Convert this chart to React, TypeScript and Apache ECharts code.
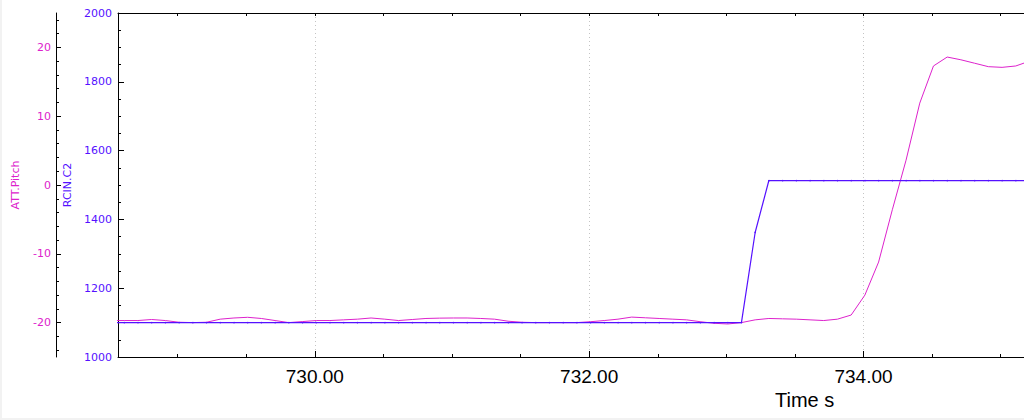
import React, { useEffect, useRef } from "react";
import * as echarts from "echarts";

const times = [
  728.51, 728.61, 728.71, 728.81, 728.91, 729.01, 729.11, 729.21, 729.31, 729.41,
  729.51, 729.61, 729.71, 729.81, 729.91, 730.01, 730.11, 730.21, 730.31, 730.41,
  730.51, 730.61, 730.71, 730.81, 730.91, 731.01, 731.11, 731.21, 731.31, 731.41,
  731.51, 731.61, 731.71, 731.81, 731.91, 732.01, 732.11, 732.21, 732.31, 732.41,
  732.51, 732.61, 732.71, 732.81, 732.91, 733.01, 733.11, 733.21, 733.31, 733.41,
  733.51, 733.61, 733.71, 733.81, 733.91, 734.01, 734.11, 734.21, 734.31, 734.41,
  734.51, 734.61, 734.71, 734.81, 734.91, 735.01, 735.11, 735.21,
];

const attPitch = [
  -19.7, -19.7, -19.7, -19.55, -19.7, -19.95, -20.0, -19.95, -19.5, -19.33,
  -19.23, -19.4, -19.7, -20.0, -19.85, -19.7, -19.7, -19.6, -19.5, -19.33,
  -19.5, -19.7, -19.55, -19.4, -19.35, -19.33, -19.33, -19.4, -19.5, -19.8,
  -19.95, -20.0, -20.0, -20.0, -20.0, -19.87, -19.7, -19.5, -19.2, -19.3,
  -19.4, -19.5, -19.6, -19.87, -20.1, -20.2, -20.0, -19.6, -19.4, -19.45,
  -19.5, -19.6, -19.7, -19.5, -18.9, -16.0, -11.2, -3.6, 3.6, 11.9,
  17.3, 18.6, 18.2, 17.7, 17.2, 17.1, 17.3, 18.0,
];

const rcinC2 = [
  1100, 1100, 1100, 1100, 1100, 1100, 1100, 1100, 1100, 1100,
  1100, 1100, 1100, 1100, 1100, 1100, 1100, 1100, 1100, 1100,
  1100, 1100, 1100, 1100, 1100, 1100, 1100, 1100, 1100, 1100,
  1100, 1100, 1100, 1100, 1100, 1100, 1100, 1100, 1100, 1100,
  1100, 1100, 1100, 1100, 1100, 1100, 1100, 1362, 1513, 1513,
  1513, 1513, 1513, 1513, 1513, 1513, 1513, 1513, 1513, 1513,
  1513, 1513, 1513, 1513, 1513, 1513, 1513, 1513,
];

const xMajorTicks = [730, 732, 734];
const xMinorTicks = [729, 729.5, 730.5, 731, 731.5, 732.5, 733, 733.5, 734.5, 735];
const xTopTicks = [729, 729.5, 730, 730.5, 731, 731.5, 732, 732.5, 733, 733.5, 734, 734.5, 735];
const pitchMajorTicks = [-20, -10, 0, 10, 20];
const pitchMinorTicks = [-24, -22, -18, -16, -14, -12, -8, -6, -4, -2, 2, 4, 6, 8, 12, 14, 16, 18, 22, 24];

const X_MIN = 728.565;
const X_MAX = 735.17;
const PITCH_COLOR = "#dd22cc";
const RCIN_COLOR = "#5511ff";

export default function App() {
  const ref = useRef<HTMLDivElement>(null);

  useEffect(() => {
    if (!ref.current) return;
    const chart = echarts.init(ref.current, null, { renderer: "svg" });
    const black = { color: "#000", width: 1 };
    const font = "DejaVu Sans";
    chart.setOption({
      animation: false,
      backgroundColor: "#ffffff",
      grid: { left: 115, top: 13, bottom: 61, right: 0, containLabel: false },
      xAxis: [
        {
          type: "value",
          min: X_MIN,
          max: X_MAX,
          position: "bottom",
          axisLine: { show: true, onZero: false, lineStyle: black },
          axisTick: { show: true, inside: true, length: 6, customValues: xMajorTicks, lineStyle: black },
          axisLabel: {
            customValues: xMajorTicks,
            formatter: (v: number) => v.toFixed(2),
            fontSize: 19,
            fontFamily: "Liberation Sans",
            color: "#000",
            margin: 10,
          },
          splitLine: { show: true, lineStyle: { color: "#c4c4c4", type: [1, 3], width: 1 } },
        },
        {
          type: "value",
          min: X_MIN,
          max: X_MAX,
          position: "bottom",
          axisLine: { show: false, onZero: false },
          axisTick: { show: true, inside: true, length: 3, customValues: xMinorTicks, lineStyle: black },
          axisLabel: { show: false },
          splitLine: { show: false },
        },
        {
          type: "value",
          min: X_MIN,
          max: X_MAX,
          position: "top",
          axisLine: { show: true, onZero: false, lineStyle: black },
          axisTick: { show: true, inside: true, length: 3, customValues: xTopTicks, lineStyle: black },
          axisLabel: { show: false },
          splitLine: { show: false },
        },
      ],
      yAxis: [
        {
          type: "value",
          min: 1000,
          max: 2000,
          interval: 200,
          position: "left",
          offset: 0,
          axisLine: { show: true, onZero: false, lineStyle: black },
          axisTick: { show: true, inside: true, length: 6, lineStyle: black },
          minorTick: { show: true, splitNumber: 4, length: 3, lineStyle: black },
          axisLabel: {
            color: RCIN_COLOR,
            fontSize: 11,
            fontFamily: font,
            margin: 6,
            formatter: (v: number) => String(v),
          },
          splitLine: { show: false },
          name: "RCIN.C2",
          nameLocation: "middle",
          nameRotate: 90,
          nameGap: 39,
          nameTextStyle: { color: RCIN_COLOR, fontSize: 11, fontFamily: font },
        },
        {
          type: "value",
          min: -25,
          max: 25,
          position: "left",
          offset: 62,
          axisLine: { show: true, onZero: false, lineStyle: black },
          axisTick: { show: true, inside: true, length: 5, customValues: pitchMajorTicks, lineStyle: black },
          axisLabel: {
            customValues: pitchMajorTicks,
            color: PITCH_COLOR,
            fontSize: 11,
            fontFamily: font,
            margin: 5,
            formatter: (v: number) => String(v),
          },
          splitLine: { show: false },
          name: "ATT.Pitch",
          nameLocation: "middle",
          nameRotate: 90,
          nameGap: 35,
          nameTextStyle: { color: PITCH_COLOR, fontSize: 11, fontFamily: font },
        },
        {
          type: "value",
          min: -25,
          max: 25,
          position: "left",
          offset: 62,
          axisLine: { show: false, onZero: false },
          axisTick: { show: true, inside: true, length: 3, customValues: pitchMinorTicks, lineStyle: black },
          axisLabel: { show: false },
          splitLine: { show: false },
        },
      ],
      graphic: [
        {
          type: "text",
          left: 773,
          top: 390,
          style: { text: "Time s", fontSize: 20, fontFamily: "Liberation Sans", fill: "#000" },
        },
      ],
      series: [
        {
          name: "ATT.Pitch",
          type: "line",
          xAxisIndex: 0,
          yAxisIndex: 1,
          data: times.map((t, i) => [t, attPitch[i]]),
          showSymbol: false,
          itemStyle: { color: PITCH_COLOR },
          lineStyle: { color: PITCH_COLOR, width: 1 },
          clip: true,
          z: 2,
        },
        {
          name: "RCIN.C2",
          type: "line",
          xAxisIndex: 0,
          yAxisIndex: 0,
          data: times.map((t, i) => [t, rcinC2[i]]),
          showSymbol: true,
          symbol: "circle",
          symbolSize: 1.5,
          itemStyle: { color: RCIN_COLOR },
          lineStyle: { color: RCIN_COLOR, width: 1.2 },
          clip: true,
          z: 3,
        },
      ],
    });
    return () => chart.dispose();
  }, []);

  return (
    <div
      style={{
        position: "fixed",
        left: 0,
        top: 0,
        width: 1024,
        height: 420,
        background: "#f2f2f2",
      }}
    >
      <div
        ref={ref}
        style={{ position: "absolute", left: 2, top: 0, width: 1022, height: 418, background: "#fff" }}
      />
    </div>
  );
}
